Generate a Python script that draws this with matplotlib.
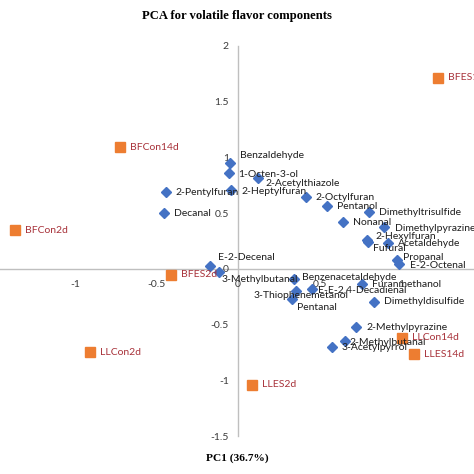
import numpy as np
import matplotlib
matplotlib.use('Agg')
import matplotlib.pyplot as plt

# ---- data ----
var_names = ['Benzaldehyde', '1-Octen-3-ol', '2-Acetylthiazole', '2-Pentylfuran',
             '2-Heptylfuran', 'Decanal', '2-Octylfuran', 'Pentanol',
             'Dimethyltrisulfide', 'Nonanal', 'Dimethylpyrazine', '2-Hexylfuran',
             'Fufural', 'Acetaldehyde', 'Propanal', 'E-2-Octenal', 'E-2-Decenal',
             '3-Methylbutanal', 'Benzenacetaldehyde', '3-Thiophenemetanol',
             'Pentanal', 'E-E-2,4-Decadienal', 'Furanmethanol', 'Dimethyldisulfide',
             '2-Methylpyrazine', '2-Methylbutanal', '3-Acetylpyrrol']
var_pc1 = [-0.049, -0.055, 0.123, -0.442, -0.043, -0.454, 0.417, 0.546,
           0.804, 0.644, 0.896, 0.791, 0.800, 0.920, 0.975, 0.988, -0.172,
           -0.117, 0.344, 0.356, 0.331, 0.454, 0.761, 0.834, 0.724, 0.656, 0.575]
var_pc2 = [0.946, 0.857, 0.813, 0.688, 0.705, 0.500, 0.643, 0.563,
           0.509, 0.420, 0.375, 0.259, 0.240, 0.232, 0.080, 0.045, 0.027,
           -0.027, -0.089, -0.196, -0.268, -0.179, -0.136, -0.295, -0.526,
           -0.643, -0.703]

sample_names = ['BFES14d', 'BFCon14d', 'BFCon2d', 'BFES2d',
                'LLCon2d', 'LLES2d', 'LLCon14d', 'LLES14d']
sample_pc1 = [1.224, -0.724, -1.368, -0.413, -0.908, 0.084, 1.004, 1.082]
sample_pc2 = [1.717, 1.092, 0.345, -0.054, -0.750, -1.040, -0.619, -0.768]

x_ticks = [-1, -0.5, 0, 0.5, 1]
y_ticks = [-1.5, -1, -0.5, 0, 0.5, 1, 1.5, 2]

# label placement (pixel offsets from the marker, y up)
var_offsets = {'Benzaldehyde': (10, 8), '1-Octen-3-ol': (9, -1),
               '2-Acetylthiazole': (7, -5), '2-Heptylfuran': (10, -1),
               '2-Hexylfuran': (9, 3), 'Fufural': (5, -6), 'Propanal': (6, 2),
               'E-2-Octenal': (11, -2), 'E-2-Decenal': (8, 8),
               '3-Methylbutanal': (3, -8), 'Benzenacetaldehyde': (8, 1),
               'Pentanal': (5, -9), 'E-E-2,4-Decadienal': (6, -1),
               '2-Methylbutanal': (5, -2), 'Dimethylpyrazine': (11, -1)}
centered = {'3-Thiophenemetanol': (5, -5)}

lab_font = 'Lato'
blue = '#4472C4'
orange = '#ED7D31'
red_txt = '#A8323A'
gray_txt = '#3A3A3A'


def main():
    fig = plt.figure(figsize=(4.74, 4.74), dpi=100)
    ax = fig.add_axes([0.0, 1 - 436 / 474, 1.0, (436 - 46) / 474])
    ax.set_xlim(-238 / 163, 236 / 163)
    ax.set_ylim(-1.5, 2.0)

    for s in ['top', 'right']:
        ax.spines[s].set_visible(False)
    ax.spines['left'].set_position(('data', 0))
    ax.spines['bottom'].set_position(('data', 0))
    for s in ['left', 'bottom']:
        ax.spines[s].set_color('#BFBFBF')
        ax.spines[s].set_linewidth(1.0)
        ax.spines[s].set_zorder(0)

    ax.set_xticks(x_ticks)
    ax.set_yticks(y_ticks)
    ax.set_xticklabels([f'{t:g}' for t in x_ticks])
    ax.set_yticklabels([f'{t:g}' for t in y_ticks])
    ax.tick_params(axis='x', length=0, pad=8, labelsize=7.5, labelcolor=gray_txt)
    ax.tick_params(axis='y', length=0, pad=6.5, labelsize=7.5, labelcolor=gray_txt)
    for lbl in ax.get_xticklabels() + ax.get_yticklabels():
        lbl.set_family(lab_font)

    ax.plot(var_pc1, var_pc2, linestyle='None', marker='D', markersize=4.8,
            color=blue, zorder=3)
    ax.plot(sample_pc1, sample_pc2, linestyle='None', marker='s', markersize=6.5,
            color=orange, zorder=3)

    for name, x, y in zip(var_names, var_pc1, var_pc2):
        if name in centered:
            ax.annotate(name, (x, y), xytext=centered[name], textcoords='offset pixels',
                        ha='center', va='center', fontsize=7.5, family=lab_font,
                        color='#1E1E1E', zorder=4)
        else:
            off = var_offsets.get(name, (10, 0))
            ax.annotate(name, (x, y), xytext=off, textcoords='offset pixels',
                        ha='left', va='center', fontsize=7.5, family=lab_font,
                        color='#1E1E1E', zorder=4)

    for name, x, y in zip(sample_names, sample_pc1, sample_pc2):
        ax.annotate(name, (x, y), xytext=(10, 0), textcoords='offset pixels',
                    ha='left', va='center', fontsize=7.5, family=lab_font,
                    color=red_txt, zorder=4)

    fig.text(0.5, 1 - 16 / 474, 'PCA for volatile flavor components', ha='center',
             va='center', fontsize=9.1, fontweight='bold', family='Liberation Serif')
    fig.text(0.5, 1 - 458 / 474, 'PC1 (36.7%)', ha='center', va='center',
             fontsize=8.2, fontweight='bold', family='Liberation Serif')

    fig.savefig('out.png', dpi=100)


if __name__ == '__main__':
    main()
